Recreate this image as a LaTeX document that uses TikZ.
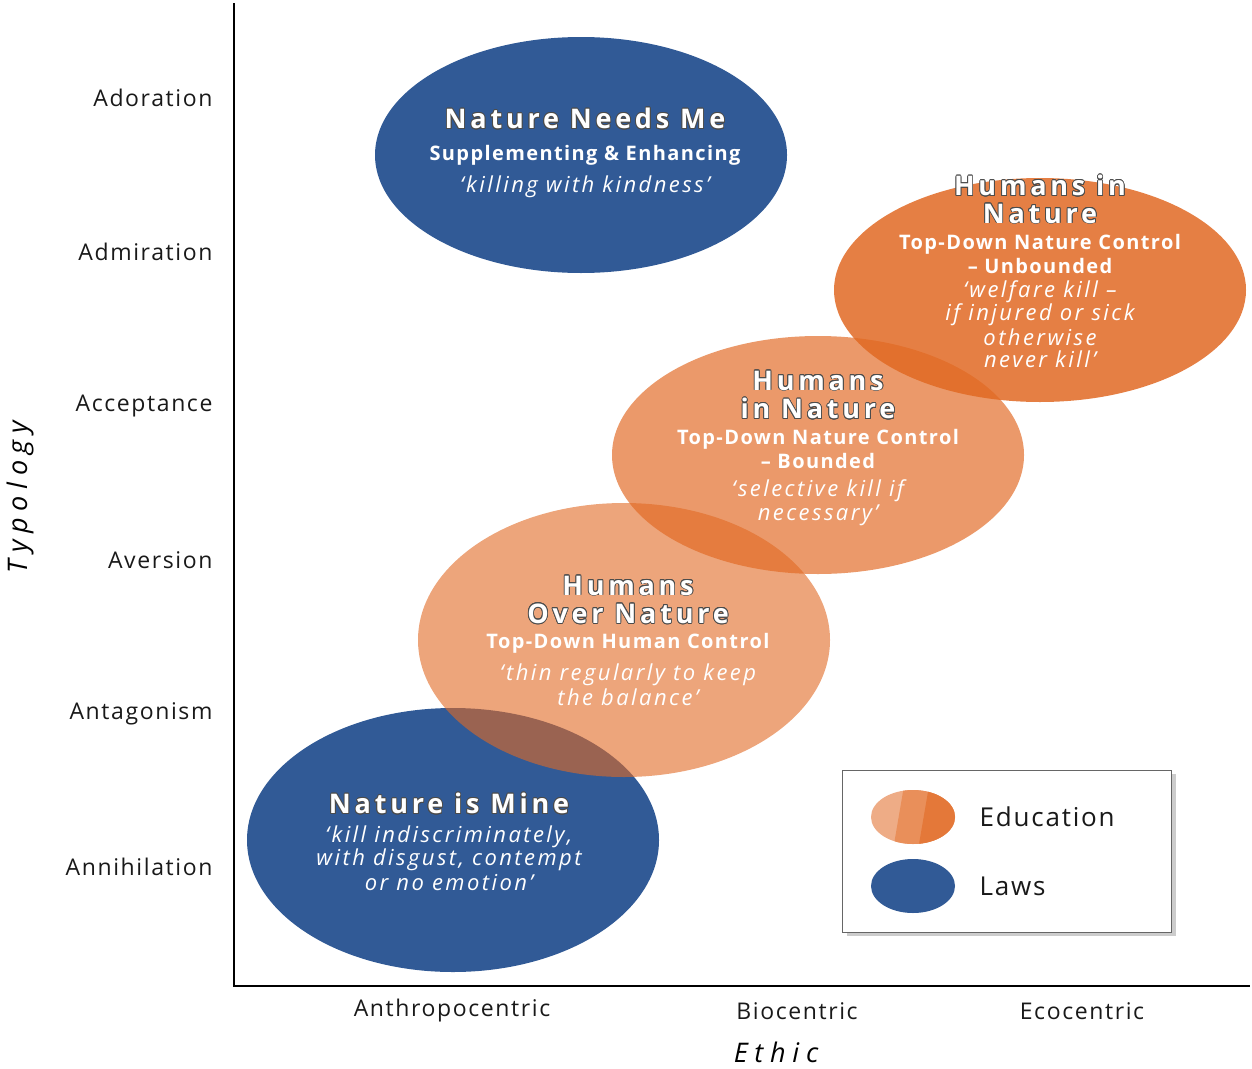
\documentclass[tikz,border=0pt]{standalone}
\usepackage{fontspec}
\setmainfont{Open Sans}
\newfontfamily\lab{Open Sans}[LetterSpace=7]
\newfontfamily\ttl{Open Sans}[LetterSpace=14]
\newfontfamily\sub{Open Sans}[LetterSpace=7]
\newfontfamily\itl{Open Sans}[LetterSpace=11]
\newfontfamily\axt{Open Sans}[LetterSpace=25]
\usepackage{contour}
\contourlength{0.8pt}
\usetikzlibrary{shadows}
\definecolor{blueL}{RGB}{49,90,150}
\definecolor{oraB}{RGB}{225,105,35}
\tikzset{
 axlab/.style={font=\lab\fontsize{23}{25}\selectfont,text=black!90},
 ttlt/.style={font=\ttl\bfseries\fontsize{27}{28}\selectfont,text=white,inner sep=0pt},
 subt/.style={font=\sub\bfseries\fontsize{20}{21}\selectfont,text=white,inner sep=0pt},
 itlt/.style={font=\itl\itshape\fontsize{22}{23}\selectfont,text=white,inner sep=0pt},
}
\newcommand{\Ttl}[1]{\contour{black!70}{#1}}
\begin{document}
\begin{tikzpicture}[x=1pt,y=-1pt]
\useasboundingbox (0,0) rectangle (1252,1068);
% axes
\coordinate (o) at (234,986);
\coordinate (ytop) at (234,3);
\coordinate (xend) at (1250,986);
\draw[line width=2pt] (ytop) -- (o) -- (xend);
% y labels
\foreach \t/\y in {Adoration/98,Admiration/252,Acceptance/406,Aversion/560,Antagonism/714,Annihilation/867}
  \node[axlab,anchor=east] (y\t) at (216,\y) {\t};
\node[axlab,anchor=center] (xa) at (452,1011) {Anthropocentric};
\node[axlab,anchor=center] (xb) at (797,1011) {Biocentric};
\node[axlab,anchor=center] (xc) at (1082,1011) {Ecocentric};
\node[font=\axt\itshape\fontsize{27}{29}\selectfont,inner sep=0pt] (ethic) at (776,1052) {Ethic};
\node[font=\axt\itshape\fontsize{27}{29}\selectfont,rotate=90,inner sep=0pt] (typ) at (20,497) {Typology};
% ellipses
\fill[blueL] (581,155) ellipse [x radius=206,y radius=118];
\fill[blueL] (453,840) ellipse [x radius=206,y radius=132];
\fill[oraB,opacity=0.6] (624,640) ellipse [x radius=206,y radius=137];
\fill[oraB,opacity=0.68] (818,455) ellipse [x radius=206,y radius=119];
\fill[oraB,opacity=0.85] (1040,290) ellipse [x radius=206,y radius=112];
% texts: Nature Needs Me
\node[ttlt] (a1) at (585,119) {\Ttl{Nature Needs Me}};
\node[subt] (a2) at (585,155) {Supplementing \& Enhancing};
\node[itlt] (a3) at (585,187) {‘killing with kindness’};
% Humans in Nature unbounded
\node[ttlt] (b1) at (1040,186) {\Ttl{Humans in}};
\node[ttlt] (b2) at (1040,214) {\Ttl{Nature}};
\node[subt] (b3) at (1040,244) {Top-Down Nature Control};
\node[subt] (b4) at (1040,266) {– Unbounded};
\node[itlt] (b5) at (1040,292) {‘welfare kill –};
\node[itlt] (b6) at (1040,315) {if injured or sick};
\node[itlt] (b7) at (1040,337) {otherwise};
\node[itlt] (b8) at (1040,359) {never kill’};
% bounded
\node[ttlt] (c1) at (818,381) {\Ttl{Humans}};
\node[ttlt] (c2) at (818,409) {\Ttl{in Nature}};
\node[subt] (c3) at (818,439) {Top-Down Nature Control};
\node[subt] (c4) at (818,461) {– Bounded};
\node[itlt] (c5) at (818,491) {‘selective kill if};
\node[itlt] (c6) at (818,515) {necessary’};
% over nature
\node[ttlt] (d1) at (628,586) {\Ttl{Humans}};
\node[ttlt] (d2) at (628,614) {\Ttl{Over Nature}};
\node[subt] (d3) at (628,643) {Top-Down Human Control};
\node[itlt] (d4) at (628,675) {‘thin regularly to keep};
\node[itlt] (d5) at (628,697) {the balance’};
% nature is mine
\node[ttlt] (e1) at (449,804) {\Ttl{Nature is Mine}};
\node[itlt] (e2) at (449,837) {‘kill indiscriminately,};
\node[itlt] (e3) at (449,860) {with disgust, contempt};
\node[itlt] (e4) at (449,883) {or no emotion’};
% legend
\node[draw=black!60,line width=1pt,fill=white,minimum width=329pt,minimum height=162pt,
      drop shadow={shadow xshift=4pt,shadow yshift=-4pt,opacity=0.4}] (leg) at (1007,851) {};
\begin{scope}
\clip (913,817) ellipse [x radius=42,y radius=27];
\fill[oraB!55!white] (860,780) rectangle (970,850);
\fill[oraB!75!white] (905,780) -- (970,780) -- (970,850) -- (893,850) -- cycle;
\fill[oraB!90!white] (930,780) -- (970,780) -- (970,850) -- (918,850) -- cycle;
\end{scope}
\fill[blueL] (913,886) ellipse [x radius=42,y radius=27];
\node[axlab,font=\lab\fontsize{26}{28}\selectfont,anchor=west] (l1) at (976,817) {Education};
\node[axlab,font=\lab\fontsize{26}{28}\selectfont,anchor=west] (l2) at (976,886) {Laws};
\end{tikzpicture}
\end{document}
